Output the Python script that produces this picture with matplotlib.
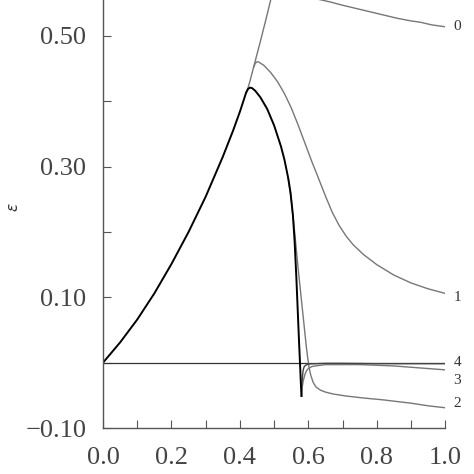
import matplotlib
matplotlib.use("Agg")
import matplotlib.pyplot as plt
import numpy as np

plt.rcParams['font.family'] = ['Liberation Serif', 'DejaVu Serif']

# rising part shared by all curves
x_rise = [0.0, 0.05, 0.1, 0.15, 0.2, 0.25, 0.3, 0.35, 0.38, 0.40, 0.41, 0.418]
y_rise = [0.0, 0.031, 0.066, 0.106, 0.151, 0.200, 0.254, 0.315, 0.355, 0.384, 0.400, 0.413]

# envelope continuing upwards (curves 0 and 1)
x_env = [0.418, 0.424, 0.430, 0.435, 0.440]
y_env = [0.413, 0.421, 0.432, 0.442, 0.452]

# curve 0 (goes off the top and comes back)
x0 = [0.440, 0.445, 0.46, 0.475, 0.49, 0.50, 0.53, 0.57, 0.60, 0.63, 0.664, 0.70, 0.74,
      0.78, 0.82, 0.86, 0.90, 0.927, 0.96, 1.0]
y0 = [0.452, 0.462, 0.492, 0.523, 0.555, 0.575, 0.60, 0.60, 0.58, 0.556, 0.552, 0.547, 0.542,
      0.537, 0.532, 0.527, 0.523, 0.521, 0.517, 0.514]

# curve 1
x1 = [0.440, 0.445, 0.45, 0.455, 0.47, 0.49, 0.51, 0.53, 0.55, 0.57, 0.59, 0.61, 0.629,
      0.65, 0.67, 0.69, 0.71, 0.73, 0.76, 0.80, 0.85, 0.90, 0.95, 1.0]
y1 = [0.452, 0.458, 0.4605, 0.460, 0.455, 0.444, 0.430, 0.412, 0.390, 0.364, 0.336, 0.308, 0.283,
      0.255, 0.230, 0.210, 0.194, 0.181, 0.166, 0.150, 0.134, 0.122, 0.113, 0.106]

# common descent of curves 2-4 (black)
x_desc = [0.418, 0.424, 0.430, 0.436, 0.445, 0.46, 0.48, 0.50, 0.52, 0.53, 0.541, 0.548, 0.555,
          0.56, 0.565, 0.569, 0.573, 0.576, 0.578, 0.58]
y_desc = [0.413, 0.419, 0.421, 0.420, 0.416, 0.406, 0.388, 0.363, 0.331, 0.311, 0.283, 0.260, 0.225,
          0.185, 0.130, 0.080, 0.030, -0.005, -0.030, -0.051]

# curve 2
x2 = [0.541, 0.55, 0.56, 0.57, 0.58, 0.586, 0.59, 0.594, 0.598, 0.602, 0.607, 0.614, 0.622,
      0.635, 0.65, 0.673, 0.71, 0.76, 0.82, 0.90, 0.95, 1.0]
y2 = [0.283, 0.250, 0.200, 0.145, 0.095, 0.065, 0.045, 0.025, 0.008, -0.007, -0.019, -0.030, -0.037,
      -0.042, -0.045, -0.048, -0.051, -0.054, -0.057, -0.062, -0.066, -0.069]

# curve 3
x3 = [0.58, 0.582, 0.585, 0.59, 0.595, 0.60, 0.61, 0.62, 0.65, 0.70, 0.75, 0.80, 0.85, 0.90, 0.95, 1.0]
y3 = [-0.051, -0.038, -0.028, -0.018, -0.012, -0.009, -0.006, -0.005, -0.003, -0.003, -0.003,
      -0.004, -0.005, -0.007, -0.009, -0.011]

# curve 4
x4 = [0.58, 0.581, 0.583, 0.585, 0.588, 0.592, 0.60, 0.65, 0.70, 0.80, 1.0]
y4 = [-0.051, -0.035, -0.020, -0.011, -0.006, -0.004, -0.002, -0.001, -0.001, -0.0015, -0.0015]

labels = ['0', '1', '2', '3', '4']
label_y = [0.514, 0.100, -0.062, -0.027, 0.0]

fig = plt.figure(figsize=(4.74, 4.74), dpi=100)
ax = fig.add_axes([0.2173, 0.097, 0.722, 0.903])

grey = '#777777'
ax.axhline(0, color='#333333', lw=0.9)
ax.plot(x_env + x0, y_env + y0, color=grey, lw=1.0)
ax.plot(x1, y1, color=grey, lw=1.0)
ax.plot(x2, y2, color=grey, lw=1.0)
ax.plot(x3, y3, color=grey, lw=1.0)
ax.plot(x4, y4, color='#444444', lw=1.0)
ax.plot(x_rise + x_desc, y_rise + y_desc, color='black', lw=1.4)

for lab, yl in zip(labels, label_y):
    ax.annotate(lab, xy=(1.0, yl), xytext=(6, 0), textcoords='offset points',
                va='center', ha='left', fontsize=11, color='#333333',
                annotation_clip=False)

ax.set_xlim(0, 1.0)
ax.set_ylim(-0.10, 0.555)
ax.set_xticks(np.arange(0, 1.01, 0.2))
ax.set_xticks(np.arange(0.1, 1.0, 0.2), minor=True)
ax.set_xticklabels(['0.0', '0.2', '0.4', '0.6', '0.8', '1.0'])
ax.set_yticks([-0.10, 0.10, 0.30, 0.50])
ax.set_yticks([0.0, 0.2, 0.4], minor=True)
ax.set_yticklabels(['\u22120.10', '0.10', '0.30', '0.50'])

for s in ['top', 'right']:
    ax.spines[s].set_visible(False)
for s in ['left', 'bottom']:
    ax.spines[s].set_color('#555555')
    ax.spines[s].set_linewidth(1.0)

ax.tick_params(which='both', direction='in', length=6, width=0.8, color='#555555',
               labelsize=19, labelcolor='#444444')
ax.tick_params(axis='x', pad=14)
ax.tick_params(axis='y', pad=12)

fig.text(0.03, 1 - 207 / 474, r'$\varepsilon$', rotation=90, fontsize=11,
         ha='center', va='center', color='#333333')

fig.savefig('out.png', dpi=100)
